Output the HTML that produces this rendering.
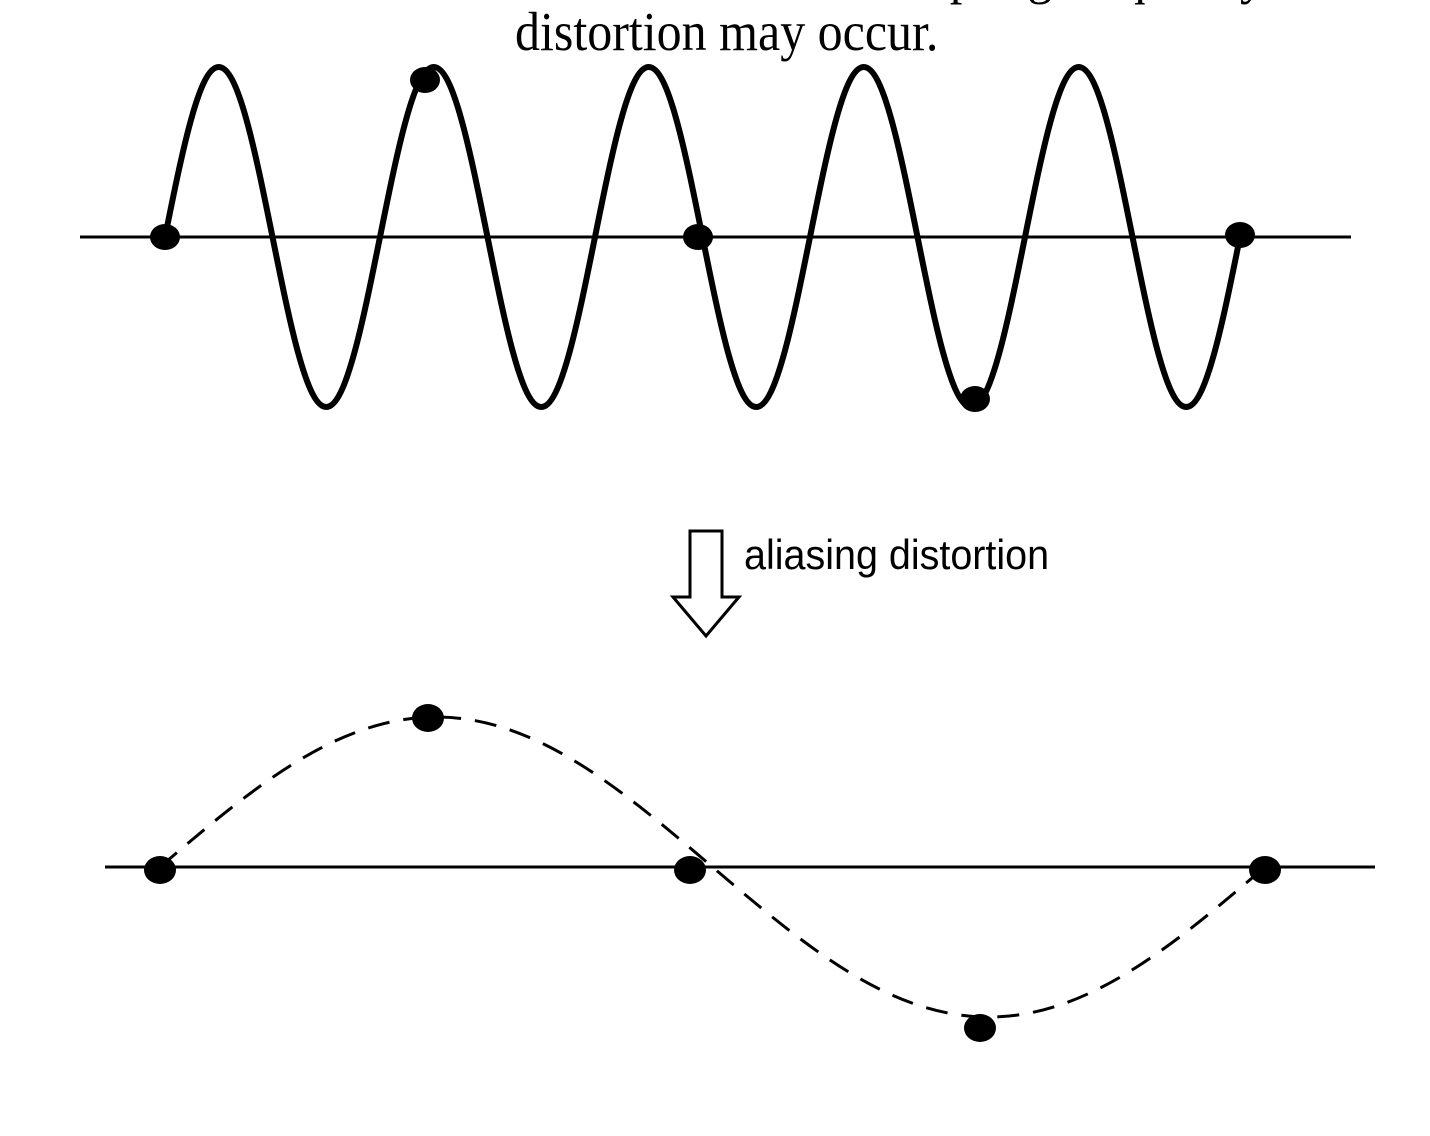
<!DOCTYPE html>
<html><head><meta charset="utf-8"><style>
html,body{margin:0;padding:0;background:#fff;width:1430px;height:1136px;overflow:hidden}
svg{display:block}
</style></head><body>
<svg width="1430" height="1136" viewBox="0 0 1430 1136" xmlns="http://www.w3.org/2000/svg">
<g transform="translate(0,50) scale(1,1.1)">
<text x="1265" y="-52" text-anchor="end" font-family="Liberation Serif, serif" font-size="50">sampling frequency</text>
<text x="515" y="0" font-family="Liberation Serif, serif" font-size="50">distortion may occur.</text>
</g>
<line x1="80" y1="237" x2="1351" y2="237" stroke="#000" stroke-width="3"/>
<path fill="none" stroke="#000" stroke-width="6" d="M165,237
c 18,-89.3 34.4,-170 53.75,-170 c 19.35,0 35.75,80.7 53.75,170 c 18,89.3 34.4,170 53.75,170 c 19.35,0 35.75,-80.7 53.75,-170
c 18,-89.3 34.4,-170 53.75,-170 c 19.35,0 35.75,80.7 53.75,170 c 18,89.3 34.4,170 53.75,170 c 19.35,0 35.75,-80.7 53.75,-170
c 18,-89.3 34.4,-170 53.75,-170 c 19.35,0 35.75,80.7 53.75,170 c 18,89.3 34.4,170 53.75,170 c 19.35,0 35.75,-80.7 53.75,-170
c 18,-89.3 34.4,-170 53.75,-170 c 19.35,0 35.75,80.7 53.75,170 c 18,89.3 34.4,170 53.75,170 c 19.35,0 35.75,-80.7 53.75,-170
c 18,-89.3 34.4,-170 53.75,-170 c 19.35,0 35.75,80.7 53.75,170 c 18,89.3 34.4,170 53.75,170 c 19.35,0 35.75,-80.7 53.75,-170"/>
<g fill="#000">
<ellipse cx="165" cy="237" rx="15" ry="13"/>
<ellipse cx="425" cy="80" rx="15" ry="13"/>
<ellipse cx="698" cy="237" rx="15" ry="13"/>
<ellipse cx="975" cy="399" rx="15" ry="13"/>
<ellipse cx="1240" cy="235" rx="15" ry="13"/>
</g>
<polygon points="690,531 722,531 722,597 739,597 706,636 673,597 690,597" fill="#fff" stroke="#000" stroke-width="3" stroke-linejoin="miter"/>
<g transform="translate(744,569) scale(1,1.06)">
<text x="0" y="0" font-family="Liberation Sans, sans-serif" font-size="39.5">aliasing distortion</text>
</g>
<line x1="105" y1="867" x2="1375" y2="867" stroke="#000" stroke-width="3"/>
<path fill="none" stroke="#000" stroke-width="3" stroke-dasharray="22,14" d="M160,867
c 92.4,-78.8 176.8,-150 276.25,-150 c 99.45,0 183.85,71.2 276.25,150 c 92.4,78.8 176.8,150 276.25,150 c 99.45,0 183.85,-71.2 276.25,-150"/>
<g fill="#000">
<ellipse cx="160" cy="870" rx="16" ry="14"/>
<ellipse cx="428" cy="718" rx="16" ry="14"/>
<ellipse cx="690" cy="870" rx="16" ry="14"/>
<ellipse cx="980" cy="1028" rx="16" ry="14"/>
<ellipse cx="1265" cy="870" rx="16" ry="14"/>
</g>
</svg>
</body></html>
